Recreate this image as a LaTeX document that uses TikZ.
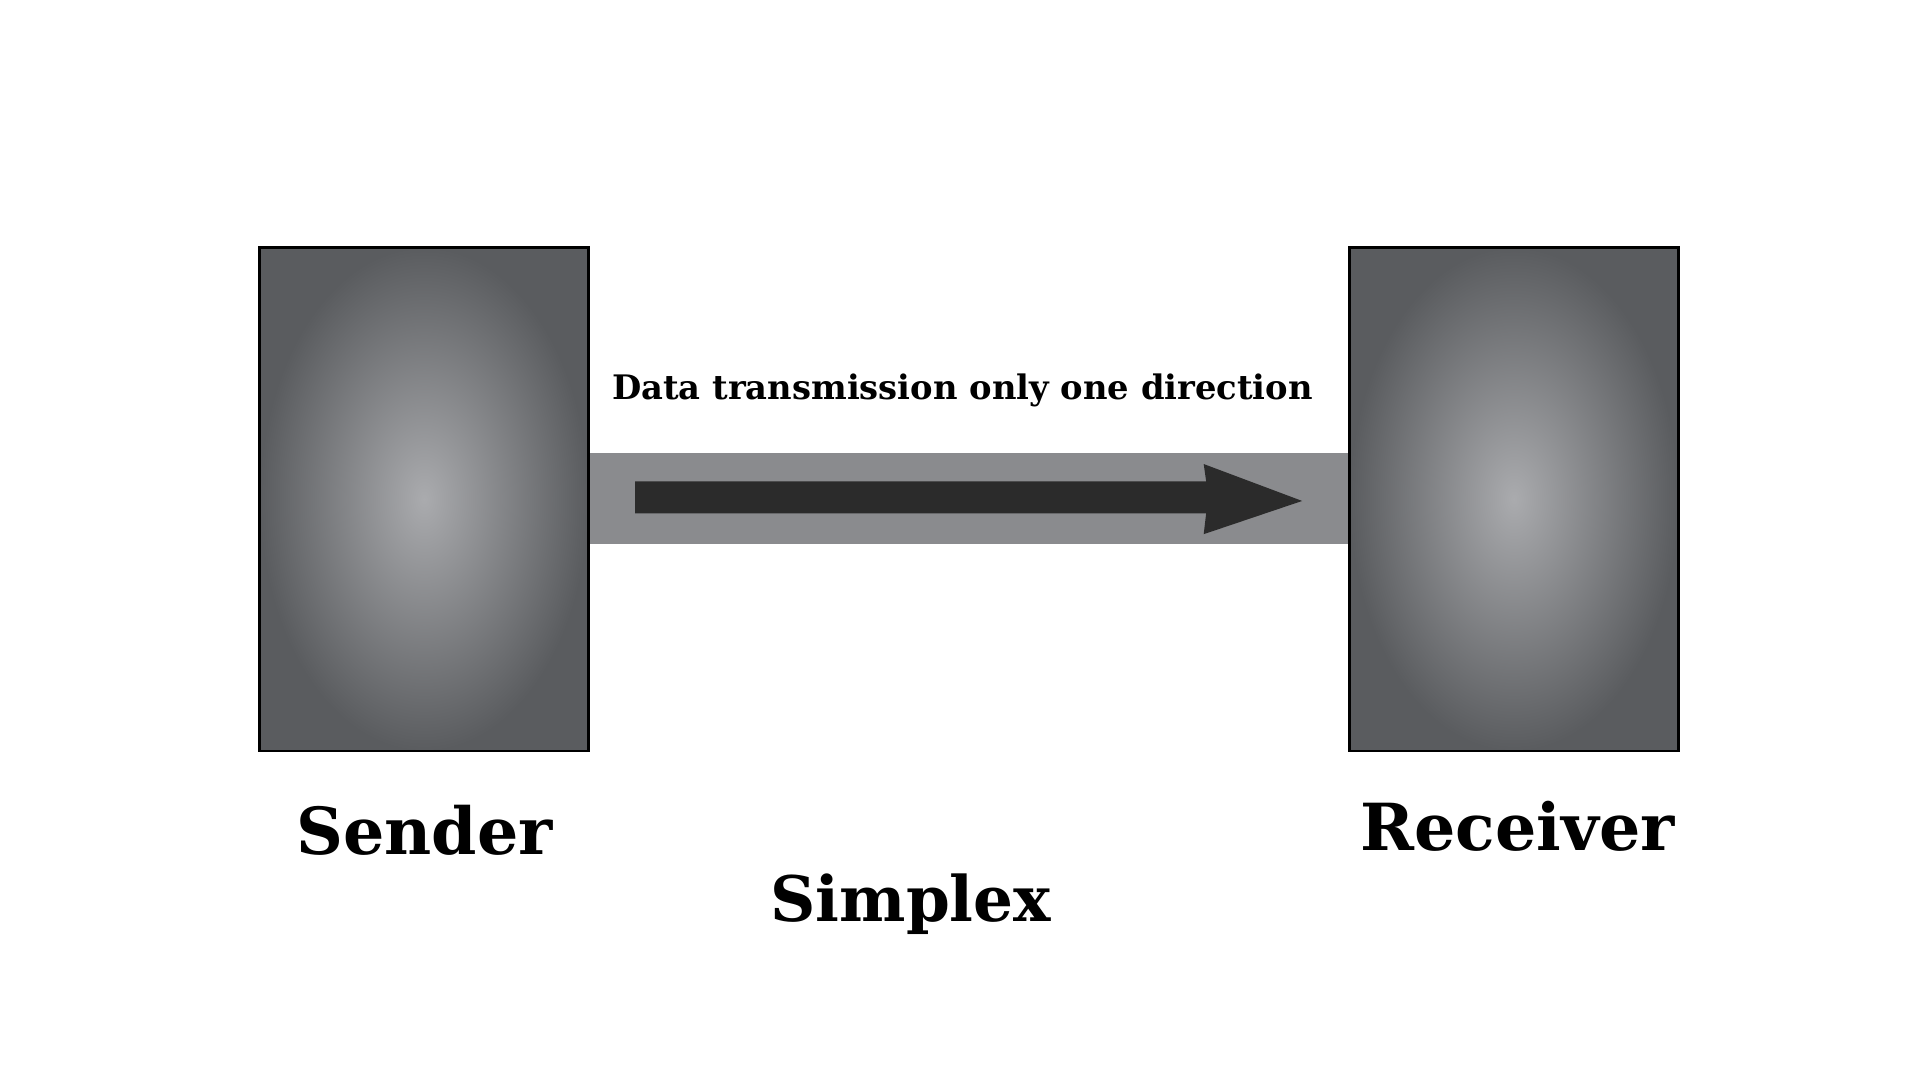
\documentclass[tikz,border=0pt]{standalone}
\usepackage{fontspec}
\setmainfont{DejaVu Serif}
\definecolor{boxout}{HTML}{5A5C5F}
\definecolor{boxin}{HTML}{AAABAE}
\definecolor{band}{HTML}{8A8B8E}
\definecolor{arr}{HTML}{2B2B2B}
\begin{document}
\begin{tikzpicture}[x=0.01cm,y=-0.01cm,
  devbox/.style={draw=black,line width=0.6pt,inner color=boxin,outer color=boxout,minimum width=2.67cm,minimum height=4.09cm,inner sep=0pt},
  biglab/.style={font=\bfseries\fontsize{15}{18}\selectfont}]
\useasboundingbox[fill=white] (0,0) rectangle (1560,877.5);
\node[devbox] (s) at (344.5,405.5) {};
\node[devbox] (r) at (1230,405.5) {};
\fill[band] (s.east|-0,368) rectangle (r.west|-0,442);
\fill[arr] (516,391) -- (980,391) -- (978,377) -- (1058,407) -- (978,434) -- (980,417) -- (516,417) -- cycle;
\node[font=\bfseries\fontsize{7.8}{10}\selectfont] (t) at (782,317) {Data transmission only one direction};
\node[biglab] (sl) at (345,675) {Sender};
\node[biglab] (rl) at (1233,671) {Receiver};
\node[biglab,font=\bfseries\fontsize{14.5}{18}\selectfont] (sim) at (740,735) {Simplex};
\end{tikzpicture}
\end{document}
